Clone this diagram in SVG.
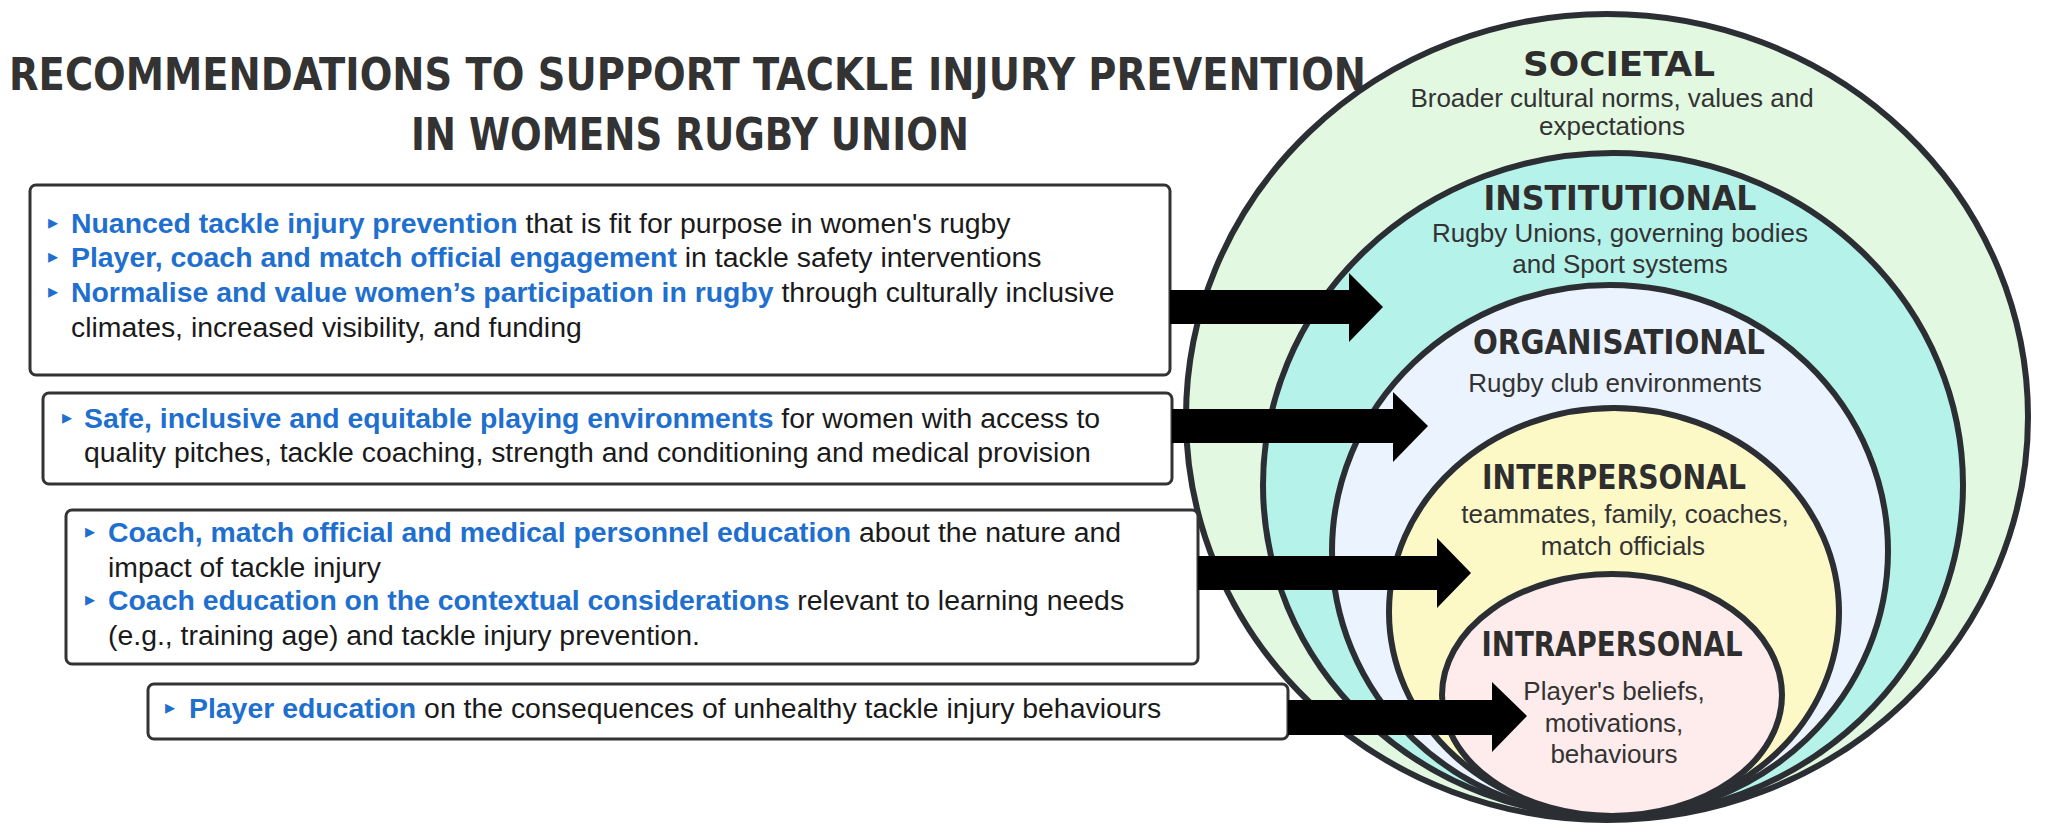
<svg xmlns="http://www.w3.org/2000/svg" width="2048" height="837" viewBox="0 0 2048 837">
<defs>
<style>
.title{font-family:"DejaVu Sans Condensed","DejaVu Sans",sans-serif;font-weight:bold;font-size:45px;fill:#333333;}
.lvl{font-family:"DejaVu Sans Condensed","DejaVu Sans",sans-serif;font-weight:bold;font-size:33px;fill:#2e2e2e;text-anchor:middle;}
.lvltxt{font-family:"Liberation Sans",Arial,sans-serif;font-size:26px;fill:#333333;text-anchor:middle;}
.ell{stroke:#2b2f33;stroke-width:6;}
.box{fill:#ffffff;stroke:#333333;stroke-width:3;}
.bt{font-family:"Liberation Sans",Arial,sans-serif;font-size:28.4px;fill:#1a1a1a;}
.b{font-weight:bold;fill:#1f6fcf;}
.bul{font-family:"DejaVu Sans",sans-serif;font-size:20px;fill:#1f6fcf;}
.arrow{fill:#000000;}
</style>
</defs>
<rect x="0" y="0" width="2048" height="837" fill="#ffffff"/>

<g id="title">
<text class="title" x="9" y="90" textLength="1357" lengthAdjust="spacingAndGlyphs">RECOMMENDATIONS TO SUPPORT TACKLE INJURY PREVENTION</text>
<text class="title" x="411" y="150" textLength="558" lengthAdjust="spacingAndGlyphs">IN WOMENS RUGBY UNION</text>
</g>

<g id="societal">
<ellipse class="ell" cx="1607" cy="417" rx="421" ry="403" fill="#e2f8e1"/>
<text class="lvl" x="1619" y="76" font-size="33" textLength="192" lengthAdjust="spacingAndGlyphs">SOCIETAL</text>
<text class="lvltxt" x="1612" y="107">Broader cultural norms, values and</text>
<text class="lvltxt" x="1612" y="135">expectations</text>
</g>

<g id="institutional">
<ellipse class="ell" cx="1613" cy="485" rx="350" ry="332" fill="#b4f2ea"/>
<text class="lvl" x="1620" y="210" textLength="273" lengthAdjust="spacingAndGlyphs">INSTITUTIONAL</text>
<text class="lvltxt" x="1620" y="242">Rugby Unions, governing bodies</text>
<text class="lvltxt" x="1620" y="273">and Sport systems</text>
</g>

<g id="organisational">
<ellipse class="ell" cx="1610" cy="551" rx="278" ry="266" fill="#ebf3fe"/>
<text class="lvl" x="1619" y="354" textLength="292" lengthAdjust="spacingAndGlyphs">ORGANISATIONAL</text>
<text class="lvltxt" x="1615" y="392">Rugby club environments</text>
</g>

<g id="interpersonal">
<ellipse class="ell" cx="1614" cy="612" rx="225" ry="204" fill="#fdf9c7"/>
<text class="lvl" x="1614" y="489" textLength="264" lengthAdjust="spacingAndGlyphs">INTERPERSONAL</text>
<text class="lvltxt" x="1625" y="523">teammates, family, coaches,</text>
<text class="lvltxt" x="1623" y="555">match officials</text>
</g>

<g id="intrapersonal">
<ellipse class="ell" cx="1612" cy="695" rx="170" ry="121" fill="#fdeceb"/>
<text class="lvl" x="1612" y="656" textLength="261" lengthAdjust="spacingAndGlyphs">INTRAPERSONAL</text>
<text class="lvltxt" x="1614" y="700">Player's beliefs,</text>
<text class="lvltxt" x="1614" y="732">motivations,</text>
<text class="lvltxt" x="1614" y="763">behaviours</text>
</g>

<g id="box1">
<rect class="box" x="30" y="185" width="1140" height="190" rx="6"/>
<text class="bul" x="48" y="229">▸</text>
<text class="bt" x="71" y="233"><tspan class="b">Nuanced tackle injury prevention</tspan> that is fit for purpose in women's rugby</text>
<text class="bul" x="48" y="263">▸</text>
<text class="bt" x="71" y="267"><tspan class="b">Player, coach and match official engagement</tspan> in tackle safety interventions</text>
<text class="bul" x="48" y="298">▸</text>
<text class="bt" x="71" y="302"><tspan class="b">Normalise and value women’s participation in rugby</tspan> through culturally inclusive</text>
<text class="bt" x="71" y="337">climates, increased visibility, and funding</text>
</g>

<g id="box2">
<rect class="box" x="43" y="393" width="1129" height="91" rx="6"/>
<text class="bul" x="62" y="424">▸</text>
<text class="bt" x="84" y="428"><tspan class="b">Safe, inclusive and equitable playing environments</tspan> for women with access to</text>
<text class="bt" x="84" y="462">quality pitches, tackle coaching, strength and conditioning and medical provision</text>
</g>

<g id="box3">
<rect class="box" x="66" y="510" width="1132" height="154" rx="6"/>
<text class="bul" x="85" y="538">▸</text>
<text class="bt" x="108" y="542"><tspan class="b">Coach, match official and medical personnel education</tspan> about the nature and</text>
<text class="bt" x="108" y="577">impact of tackle injury</text>
<text class="bul" x="85" y="606">▸</text>
<text class="bt" x="108" y="610"><tspan class="b">Coach education on the contextual considerations</tspan> relevant to learning needs</text>
<text class="bt" x="108" y="645">(e.g., training age) and tackle injury prevention.</text>
</g>

<g id="box4">
<rect class="box" x="148" y="684" width="1140" height="55" rx="6"/>
<text class="bul" x="165" y="714">▸</text>
<text class="bt" x="189" y="718"><tspan class="b">Player education</tspan> on the consequences of unhealthy tackle injury behaviours</text>
</g>

<g id="connectors">
<polygon class="arrow" points="1170,290 1349,290 1349,273 1383,307 1349,342 1349,324 1170,324"/>
<polygon class="arrow" points="1172,409 1393,409 1393,392 1428,426 1393,462 1393,443 1172,443"/>
<polygon class="arrow" points="1198,556 1437,556 1437,538 1471,573 1437,608 1437,590 1198,590"/>
<polygon class="arrow" points="1288,700 1492,700 1492,682 1527,716 1492,752 1492,735 1288,735"/>
</g>
</svg>
